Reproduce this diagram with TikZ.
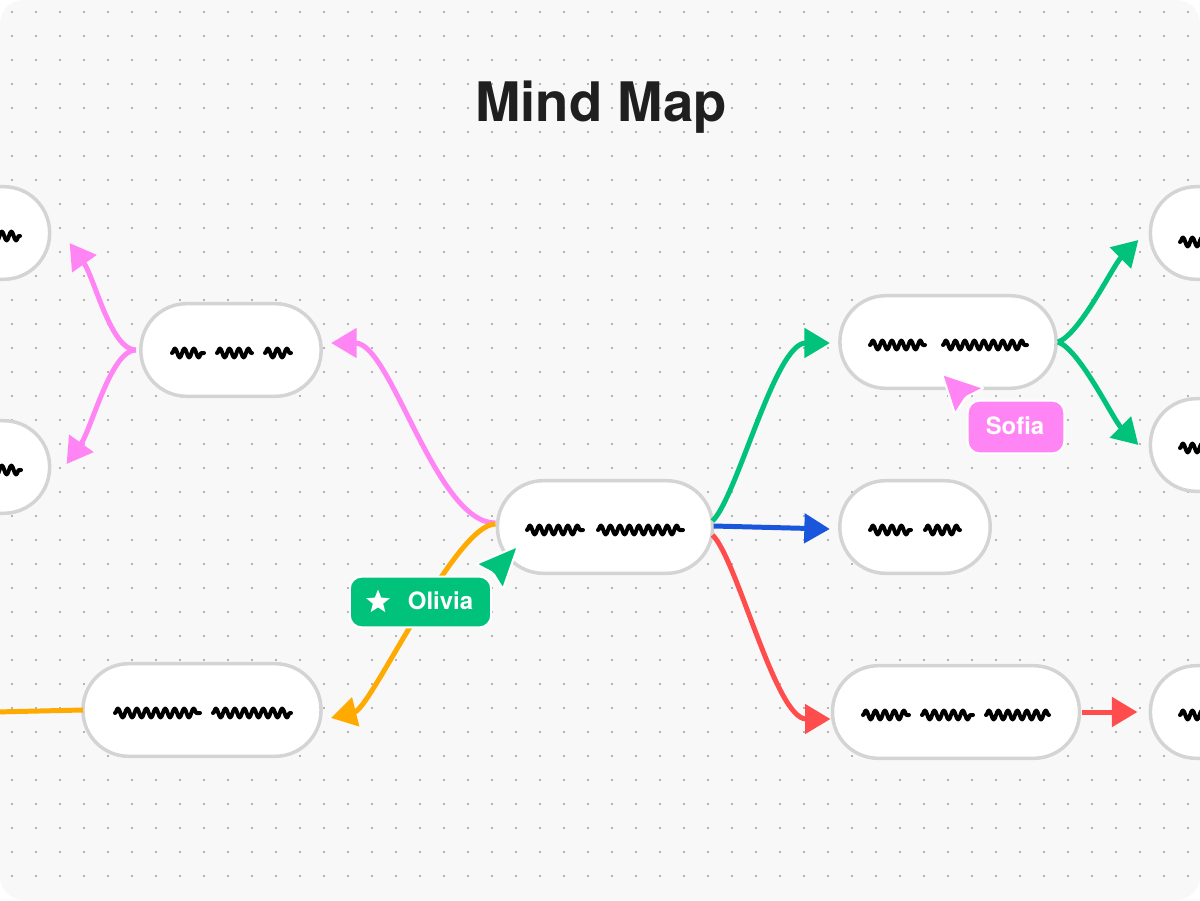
\documentclass[tikz,border=0pt]{standalone}
\usepackage{fontspec}
\setsansfont{TeX Gyre Heros}
\usetikzlibrary{arrows.meta,calc,decorations.pathmorphing,shapes.geometric}
\newlength\pxu \setlength\pxu{0.5669pt}
\definecolor{bgc}{HTML}{F8F8F8}
\definecolor{dotc}{HTML}{B4B4B4}
\definecolor{pillc}{HTML}{D4D4D4}
\definecolor{titlec}{HTML}{1F1F1F}
\definecolor{pinkc}{HTML}{FF85F4}
\definecolor{greenc}{HTML}{00C27A}
\definecolor{bluec}{HTML}{1A56DB}
\definecolor{redc}{HTML}{FF4D4D}
\definecolor{orangec}{HTML}{FFAA00}
\newcommand\squig[3]{\draw[squigline] (#1,#3) -- (#2,#3);}
\begin{document}
\begin{tikzpicture}[x=0.02cm,y=-0.02cm,
  pill/.style={draw=pillc, fill=white, line width=3.5\pxu, rounded corners=46\pxu,
    minimum height=93\pxu, inner sep=0pt, outer sep=0pt},
  edge/.style={line width=5\pxu, -{Triangle[length=14.5pt,width=16.5pt]}},
  squigline/.style={line width=4\pxu, line cap=round, line join=round, decorate,
    decoration={snake, segment length=9.5\pxu, amplitude=4.5\pxu}},
  labelbox/.style={draw=white, line width=2\pxu, rounded corners=12\pxu, inner sep=0pt},
  labeltext/.style={text=white, font=\sffamily\bfseries\fontsize{13.6pt}{16pt}\selectfont, inner sep=0pt, anchor=base},
  cursor/.style={draw=white, line width=2\pxu, rounded corners=2\pxu}
]
\useasboundingbox (0,0) rectangle (1200,900);
\begin{scope}
\clip (0,0) rectangle (1200,900);
\fill[white] (0,0) rectangle (1200,900);
\fill[bgc, rounded corners=24\pxu] (0,0) rectangle (1200,900);
\foreach \i in {0,...,49} {
  \foreach \j in {0,...,36} {
    \fill[dotc] ({11+24*\i},{11+24*\j}) rectangle ++(2,2);
  }
}
% title
\node[anchor=base, text=titlec, inner sep=0pt, font=\sffamily\bfseries\fontsize{31pt}{36pt}\selectfont] (title) at (601,121) {Mind Map};
% nodes
\node[pill, minimum width=216\pxu] (c) at (605,527) {};
\node[pill, minimum width=181\pxu] (lu) at (231,350) {};
\node[pill, minimum width=200\pxu] (flt) at (-50,233) {};
\node[pill, minimum width=200\pxu] (flb) at (-50,467) {};
\node[pill, minimum width=239\pxu] (lb) at (202,710) {};
\node[pill, minimum width=217\pxu] (rt) at (948,342) {};
\node[pill, minimum width=151\pxu] (rm) at (915,527) {};
\node[pill, minimum width=248\pxu] (rb) at (956,712) {};
\node[pill, minimum width=200\pxu] (frt) at (1250,233) {};
\node[pill, minimum width=200\pxu] (frm) at (1250,445) {};
\node[pill, minimum width=200\pxu] (frb) at (1250,712) {};
\coordinate (leftend) at (-5,712);
% squiggles
\squig{527}{583}{530} \squig{598}{683}{530}
\squig{172}{204}{353} \squig{217}{252}{353} \squig{265}{291}{353}
\squig{-20}{20}{236} \squig{-20}{21}{470}
\squig{115}{200}{713} \squig{213}{291}{713}
\squig{870}{925}{345} \squig{943}{1027}{345}
\squig{870}{911}{530} \squig{925}{960}{530}
\squig{863}{909}{715} \squig{922}{973}{715} \squig{986}{1049}{715}
\squig{1180}{1220}{242} \squig{1180}{1220}{448} \squig{1180}{1220}{715}
% edges
\draw[edge, pinkc] ($(c.west)+(-2,-4)$) .. controls +(-60,0) and +(60,0) .. ($(lu.east)+(10,-7)$);
\draw[edge, orangec] ($(c.west)+(-2,-3)$) .. controls +(-40,0) and +(40,-10) .. ($(lb.east)+(10,8)$);
\draw[edge, greenc] ($(c.east)+(0,-6)$) .. controls +(25,-25) and +(-55,0) .. ($(rt.west)+(-10,1)$);
\draw[edge, bluec] ($(c.east)+(1,-1)$) -- ($(rm.west)+(-10,2)$);
\draw[edge, redc] ($(c.east)+(0,8)$) .. controls +(25,25) and +(-55,0) .. ($(rb.west)+(-2,7)$);
\draw[edge, pinkc] ($(lu.west)+(-5,0)$) .. controls +(-25,0) and +(25,35) .. ($(flt.east)+(20,10)$);
\draw[edge, pinkc] ($(lu.west)+(-5,0)$) .. controls +(-25,0) and +(25,-35) .. ($(flb.east)+(17,-3)$);
\draw[edge, greenc] ($(rt.east)+(2,0)$) .. controls +(22,-8) and +(-25,25) .. ($(frt.west)+(-12,7)$);
\draw[edge, greenc] ($(rt.east)+(2,0)$) .. controls +(22,8) and +(-25,-25) .. ($(frm.west)+(-12,0)$);
\draw[edge, redc] ($(rb.east)+(2,0)$) -- ($(frb.west)+(-13,0)$);
\draw[line width=5\pxu, orangec] (lb.west) -- (leftend);
% Olivia cursor and label
\filldraw[cursor, fill=greenc] (518,546) -- (476,564) -- (493,573) -- (503,589) -- cycle;
\node[labelbox, fill=greenc, minimum width=142\pxu, minimum height=51\pxu] (olivbox) at (420.5,602) {};
\node[star, star points=5, star point ratio=2.3, fill=white, minimum size=25\pxu, inner sep=0pt] (star) at (378,602) {};
\node[labeltext] (olivtext) at (440.5,609) {Olivia};
% Sofia cursor and label
\filldraw[cursor, fill=pinkc] (942,374) -- (984,388) -- (966,397) -- (955,414) -- cycle;
\node[labelbox, fill=pinkc, minimum width=97\pxu, minimum height=53\pxu] (sofbox) at (1016,427) {};
\node[labeltext] (softext) at (1015,434) {Sofia};
\end{scope}
\end{tikzpicture}
\end{document}
